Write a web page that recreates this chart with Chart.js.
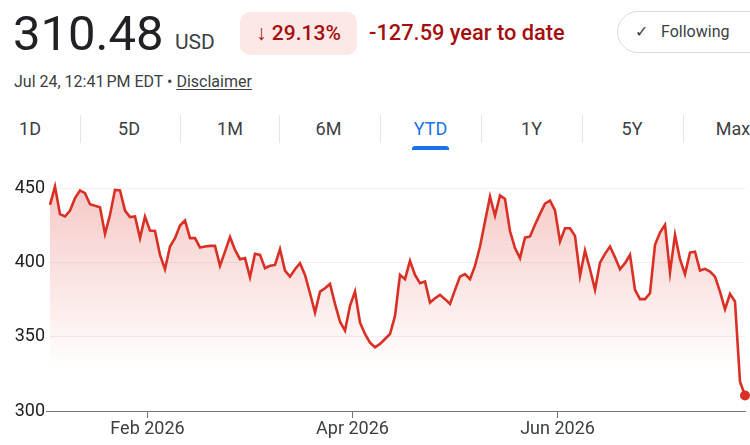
<!DOCTYPE html>
<html>
<head>
<meta charset="utf-8">
<script src="https://cdn.jsdelivr.net/npm/chart.js@4"></script>
<style>
  html, body { margin: 0; padding: 0; background: #fff; }
  body { width: 750px; height: 445px; overflow: hidden; position: relative; font-family: Roboto, "Open Sans", Arial, sans-serif; color: #202124; }
  .abs { position: absolute; white-space: nowrap; }
  #price { left: 13px; top: 9px; font-size: 49px; line-height: 50px; color: #202124; }
  #cur { left: 175px; top: 30px; font-size: 21px; line-height: 24px; color: #3c4043; }
  #badge { left: 240px; top: 12px; width: 117px; height: 43px; border-radius: 10px; background: #fce8e6; color: #a50e0e; font-size: 21px; font-weight: 500; line-height: 43px; text-align: center; }
  #ytd { left: 369px; top: 21px; font-size: 21.8px; font-weight: 500; line-height: 24px; color: #a50e0e; }
  #follow { left: 617px; top: 11px; width: 160px; height: 40px; border: 1px solid #dadce0; border-radius: 21px; font-size: 16px; line-height: 40px; color: #3c4043; }
  #follow .chk { position: absolute; left: 17px; top: 0; font-size: 16px; }
  #follow .lbl { position: absolute; left: 43px; top: 0; }
  #stamp { left: 14px; top: 72px; font-size: 16px; line-height: 19px; color: #3c4043; }
  #stamp u { text-underline-offset: 2px; }
  .tab { top: 119px; font-size: 18px; line-height: 20px; color: #3c4043; transform: translateX(-50%); }
  .tab.sel { color: #1a73e8; }
  .sep { top: 115px; width: 1px; height: 28px; background: #e3e5e8; }
  #uline { left: 412px; top: 146px; width: 37px; height: 4px; background: #1a73e8; border-radius: 3px 3px 0 0; }
  #wrap { position: absolute; left: 0; top: 160px; width: 750px; height: 285px; }
</style>
</head>
<body>
<div class="abs" id="price">310.48</div>
<div class="abs" id="cur">USD</div>
<div class="abs" id="badge">↓ 29.13%</div>
<div class="abs" id="ytd">-127.59 year to date</div>
<div class="abs" id="follow"><span class="chk">✓</span><span class="lbl">Following</span></div>
<div class="abs" id="stamp">Jul 24, 12:41&#8239;PM EDT • <u>Disclaimer</u></div>
<div id="tabs"></div>
<div class="abs" id="uline"></div>
<div id="wrap"><canvas id="c"></canvas></div>
<script>
// ---- data ----
const tabLabels = ["1D", "5D", "1M", "6M", "YTD", "1Y", "5Y", "Max"];
const selectedTab = "YTD";
const yTicks = [300, 350, 400, 450];
const xTickLabels = ["Feb 2026", "Apr 2026", "Jun 2026"];
const xTickPositions = [19.5, 60.5, 101.5]; // month boundaries in trading-day index
const prices = [
  439.2, 451.6, 432.9, 431.3, 435.3, 443.7, 448.9, 447.1, 439.6, 438.5,
  437.6, 419.6, 432.4, 449.3, 448.9, 435.3, 430.9, 431.3, 416.7, 431.3,
  421.8, 421.6, 405.4, 395.7, 411.0, 416.7, 425.2, 428.6, 416.7, 416.7,
  410.4, 411.0, 411.5, 411.5, 398.0, 407.6, 417.4, 408.8, 402.5, 403.2,
  390.3, 406.1, 405.4, 396.4, 398.0, 398.6, 409.3, 394.8, 390.7, 395.7,
  399.8, 391.9, 379.5, 366.4, 380.6, 382.9, 385.8, 372.3, 360.3, 354.3,
  371.0, 380.6, 359.7, 352.0, 346.1, 343.0, 345.3, 348.6, 352.0, 364.2,
  391.9, 389.0, 401.4, 391.9, 386.3, 387.4, 373.2, 376.1, 378.4, 375.5,
  372.3, 381.8, 390.7, 392.4, 389.0, 398.0, 411.0, 427.9, 444.8, 431.8,
  445.5, 443.2, 421.5, 410.0, 403.2, 417.0, 417.8, 425.7, 433.1, 440.0,
  442.1, 435.5, 414.4, 423.4, 423.4, 418.2, 391.2, 408.3, 395.7, 381.8,
  400.2, 406.1, 411.0, 403.8, 395.7, 399.8, 405.4, 381.8, 375.5, 375.5,
  379.5, 412.2, 420.5, 425.7, 393.5, 418.9, 402.5, 392.4, 407.0, 407.6,
  394.8, 396.0, 394.1, 390.7, 380.6, 368.7, 379.0, 373.9, 319.8, 310.48
];

// ---- tabs ----
const tabCenters = [30, 129, 230, 328.5, 430.5, 531.5, 632, 733];
const tabsEl = document.getElementById('tabs');
tabLabels.forEach((t, i) => {
  const s = document.createElement('div');
  s.className = 'abs tab' + (t === selectedTab ? ' sel' : '');
  s.style.left = tabCenters[i] + 'px';
  s.textContent = t;
  tabsEl.appendChild(s);
  if (i < tabLabels.length - 1) {
    const sep = document.createElement('div');
    sep.className = 'abs sep';
    sep.style.left = Math.round((tabCenters[i] + tabCenters[i + 1]) / 2) + 'px';
    tabsEl.appendChild(sep);
  }
});

// ---- chart ----
const RED = '#d93025';
const points = prices.map((v, i) => ({ x: i, y: v }));
const last = prices.length - 1;

new Chart(document.getElementById('c'), {
  type: 'line',
  data: {
    datasets: [{
      data: points,
      borderColor: RED,
      borderWidth: 2.6,
      tension: 0,
      fill: 'start',
      clip: false,
      backgroundColor: (ctx) => {
        const ca = ctx.chart.chartArea;
        if (!ca) return 'rgba(217,48,37,0.15)';
        const g = ctx.chart.ctx.createLinearGradient(0, ca.top + 15, 0, ca.top + 195);
        g.addColorStop(0, 'rgba(217,48,37,0.26)');
        g.addColorStop(1, 'rgba(217,48,37,0)');
        return g;
      },
      pointRadius: (ctx) => ctx.dataIndex === last ? 5 : 0,
      pointHoverRadius: 0,
      pointBackgroundColor: RED,
      pointBorderWidth: 0
    }]
  },
  options: {
    responsive: true,
    maintainAspectRatio: false,
    animation: false,
    events: [],
    layout: { padding: { top: 14, right: 4, left: 0, bottom: 0 } },
    plugins: { legend: { display: false }, tooltip: { enabled: false } },
    scales: {
      x: {
        type: 'linear',
        min: 0,
        max: last,
        afterBuildTicks: (s) => { s.ticks = xTickPositions.map(v => ({ value: v })); },
        afterFit: (s) => { s.height = 34; },
        ticks: {
          autoSkip: false,
          maxRotation: 0,
          padding: 1,
          color: '#3c4043',
          font: { family: 'Roboto', size: 18 },
          callback: (v) => { const i = xTickPositions.indexOf(v); return i >= 0 ? xTickLabels[i] : ''; }
        },
        grid: { drawOnChartArea: false, drawTicks: true, tickLength: 7, tickColor: '#70757a', tickWidth: 1 },
        border: { display: true, color: '#70757a', width: 1 }
      },
      y: {
        min: 300,
        max: 460,
        afterBuildTicks: (s) => { s.ticks = yTicks.map(v => ({ value: v })); },
        afterFit: (s) => { s.width = 50; },
        ticks: {
          padding: 1,
          color: '#202124',
          font: { family: 'Roboto', size: 18 },
          callback: (v) => String(v)
        },
        grid: {
          color: (ctx) => ctx.tick && ctx.tick.value === 300 ? 'rgba(0,0,0,0)' : '#eef0f2',
          tickColor: (ctx) => ctx.tick && ctx.tick.value === 300 ? '#70757a' : 'rgba(0,0,0,0)',
          tickLength: 4,
          lineWidth: 1
        },
        border: { display: false }
      }
    }
  }
});
</script>
</body>
</html>
